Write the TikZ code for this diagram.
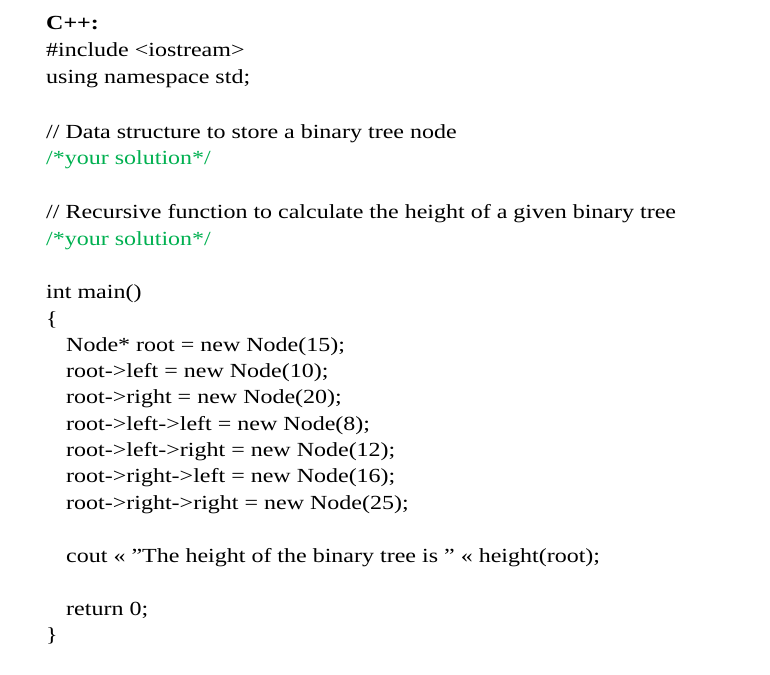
\documentclass[tikz,border=0pt]{standalone}
\usepackage{fontspec}
\setmainfont[FakeStretch=1.2,Ligatures=NoCommon]{Liberation Serif}
\definecolor{cgreen}{RGB}{0,176,80}
\newcommand{\myll}{\char60\char60}
\newcommand{\mydq}{\char34}
\begin{document}
\begin{tikzpicture}[x=1pt,y=1pt,
  code/.style={anchor=base west,inner sep=0pt,font=\fontsize{20}{22}\selectfont},
  cmt/.style={code,text=cgreen}]
\useasboundingbox (0,0) rectangle (770,-674);
\node[code,font=\fontsize{20}{22}\selectfont\bfseries] (l1) at (46,-30) {C++:};
\node[code] (l2) at (46,-57) {\#include \char60iostream\char62};
\node[code] (l3) at (46,-84) {using namespace std;};
\node[code] (l4) at (46,-138) {// Data structure to store a binary tree node};
\node[cmt] (l5) at (46,-164) {/*your solution*/};
\node[code] (l6) at (46,-218) {// Recursive function to calculate the height of a given binary tree};
\node[cmt] (l7) at (46,-245) {/*your solution*/};
\node[code] (l8) at (46,-298) {int main()};
\node[code] (l9) at (46,-325) {\{};
\node[code] (l10) at (66,-351) {Node* root = new Node(15);};
\node[code] (l11) at (66,-377) {root-\char62left = new Node(10);};
\node[code] (l12) at (66,-403) {root-\char62right = new Node(20);};
\node[code] (l13) at (66,-430) {root-\char62left-\char62left = new Node(8);};
\node[code] (l14) at (66,-456) {root-\char62left-\char62right = new Node(12);};
\node[code] (l15) at (66,-482) {root-\char62right-\char62left = new Node(16);};
\node[code] (l16) at (66,-509) {root-\char62right-\char62right = new Node(25);};
\node[code] (l17) at (66,-562) {cout \myll{} \mydq{}The height of the binary tree is \mydq{} \myll{} height(root);};
\node[code] (l18) at (66,-615) {return 0;};
\node[code] (l19) at (46,-641) {\}};
\end{tikzpicture}
\end{document}
